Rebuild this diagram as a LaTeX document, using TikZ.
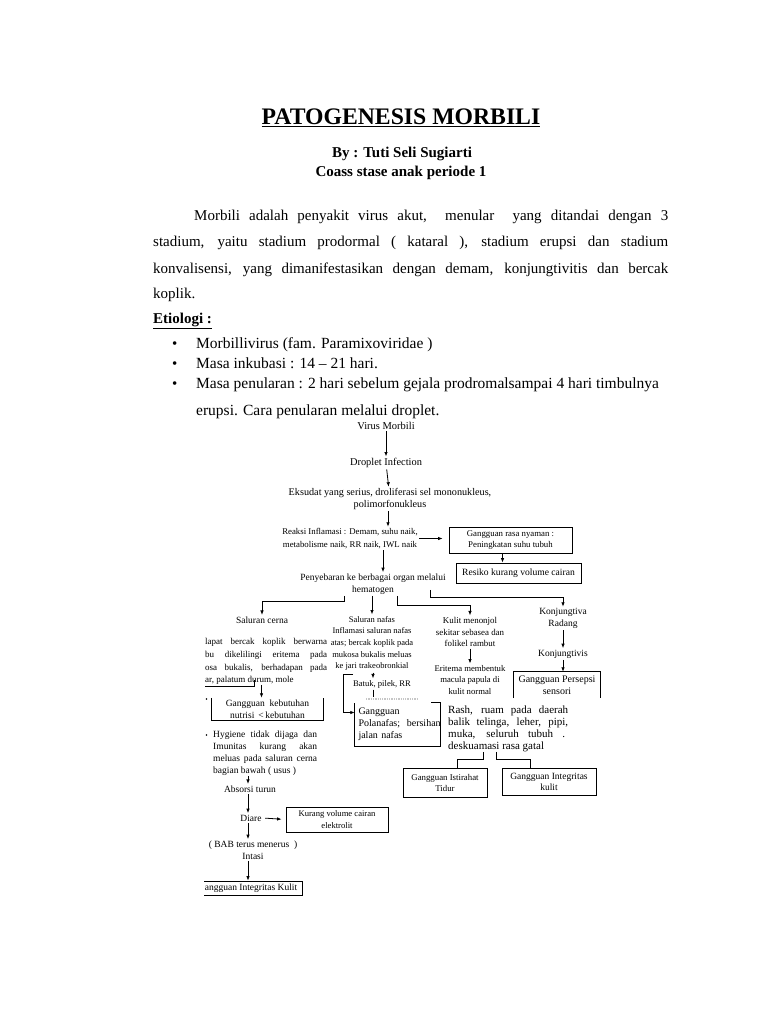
\documentclass[tikz,border=0pt]{standalone}
\usepackage{fontspec}
\setmainfont{Liberation Serif}
\usetikzlibrary{arrows.meta}
\newcommand\jl[2]{\makebox[#1][s]{#2}}
\newcommand\fs[1]{\fontsize{#1}{11.7}\selectfont}

\begin{document}
\begin{tikzpicture}[x=1pt,y=-1pt,
  body/.style={font=\fontsize{15}{18}\selectfont, inner sep=0pt, anchor=base west},
  lbl/.style={font=\fs{9.5}, align=center, inner sep=1.5pt},
  boxed/.style={lbl, draw, line width=0.8pt},
  arr/.style={-{Latex[length=4.5pt,width=3.5pt]}, line width=0.8pt},
  ln/.style={line width=0.8pt}]
\useasboundingbox (0,0) rectangle (768,1024);

\node[font=\fontsize{23.7}{24}\selectfont\bfseries, inner sep=0pt, anchor=base] (title) at (401,125) {\underline{PATOGENESIS MORBILI}};
\node[font=\fontsize{15}{18}\selectfont\bfseries, inner sep=0pt, anchor=base] (by) at (402,158) {By : Tuti Seli Sugiarti};
\node[font=\fontsize{15}{18}\selectfont\bfseries, inner sep=0pt, anchor=base] (coass) at (401,177) {Coass stase anak periode 1};

\node[body] (p1) at (194,221) {\jl{474pt}{Morbili adalah penyakit virus akut,\ \ menular\ \ yang ditandai dengan 3}};
\node[body] (p2) at (153,247) {\jl{515pt}{stadium, yaitu stadium prodormal ( kataral ), stadium erupsi dan stadium}};
\node[body] (p3) at (153,273) {\jl{515pt}{konvalisensi, yang dimanifestasikan dengan demam, konjungtivitis dan bercak}};
\node[body] (p4) at (153,298) {koplik.};
\node[body, font=\fontsize{15}{18}\selectfont\bfseries] (etio) at (153,323) {\underline{Etiologi :}};
\foreach \yy/\tt in {348/Morbillivirus (fam. Paramixoviridae ), 368/Masa inkubasi : 14 -- 21 hari., 388/Masa penularan : 2 hari sebelum gejala prodromalsampai 4 hari timbulnya}{
  \node[body] at (172,\yy) {•};
  \node[body, font=\fontsize{15.5}{18}\selectfont] at (196,\yy) {\tt};
}
\node[body, font=\fontsize{15.5}{18}\selectfont] (cont) at (196,415) {erupsi. Cara penularan melalui droplet.};

\begin{scope}
\clip (204,415) rectangle (768,1024);
\node[lbl, font=\fs{10.5}] (virus) at (386,426) {Virus Morbili};
\node[lbl, font=\fs{10.4}] (droplet) at (386,463) {Droplet Infection};
\node[lbl, font=\fs{10.2}] (eksudat) at (390,499) {Eksudat yang serius, droliferasi sel mononukleus,\\polimorfonukleus};
\node[lbl, font=\fontsize{8.8}{12.5}\selectfont] (reaksi) at (350,538.5) {Reaksi Inflamasi : Demam, suhu naik,\\metabolisme naik, RR naik, IWL naik};
\node[boxed, font=\fs{8.8}, minimum width=123pt, minimum height=26pt] (rasa) at (510.5,540) {Gangguan rasa nyaman :\\Peningkatan suhu tubuh};
\node[boxed, font=\fs{9.6}, minimum width=125pt, minimum height=20pt] (resiko) at (518.5,573) {Resiko kurang volume cairan};
\node[lbl] (sebar) at (373,584) {Penyebaran ke berbagai organ melalui\\hematogen};

\draw[arr] (virus) -- (droplet);
\draw[arr] (droplet) -- (eksudat);
\draw[arr] ([xshift=-2pt]eksudat.south) -- ([xshift=-2pt]eksudat.south |- reaksi.north);
\draw[arr, shorten >=6pt] (reaksi.east) -- (reaksi.east -| rasa.west);
\draw[arr] ([xshift=-8pt]rasa.south) -- ([xshift=-8pt]rasa.south |- resiko.north);
\draw[arr] ([xshift=33pt]reaksi.south) -- ([xshift=33pt]reaksi.south |- sebar.north);

% saluran cerna
\node[lbl] (cerna) at (262,620) {Saluran cerna};
\node[lbl, font=\fontsize{9}{12.6}\selectfont, align=left, anchor=north west, inner sep=0pt] (koplik) at (205,638.5) {\jl{122pt}{lapat bercak koplik berwarna}\\\jl{122pt}{bu dikelilingi eritema pada}\\\jl{122pt}{osa bukalis, berhadapan pada}\\ar, palatum durum, mole};
\node[lbl, minimum width=111pt, minimum height=22pt] (kebut) at (267.5,709) {Gangguan \ kebutuhan\\nutrisi \,<\,kebutuhan};
\draw[ln] (kebut.north west) -- (kebut.south west) -- (kebut.south east) -- (kebut.north east);
\draw[ln] ([yshift=-2pt]koplik.south west) -- ++(49,0) -- ++(0,-7);
\draw[arr] ([xshift=-6pt]kebut.north |- koplik.south) -- ([xshift=-6pt]kebut.north);
\fill (206.5,699) circle (0.8);
\fill (206.5,735) circle (0.8);
\node[lbl, align=left, anchor=north west, inner sep=0pt, font=\fontsize{9.5}{12}\selectfont] (hyg) at (213,731) {\jl{104pt}{Hygiene tidak dijaga dan}\\\jl{104pt}{Imunitas kurang akan}\\\jl{104pt}{meluas pada saluran cerna}\\bagian bawah ( usus )};
\node[lbl] (absorsi) at (250,789) {Absorsi turun};
\node[lbl] (diare) at (251,818) {Diare};
\node[boxed, font=\fs{8.6}, minimum width=102pt, minimum height=25pt] (kvol) at (337,819.5) {Kurang volume cairan\\elektrolit};
\node[lbl] (bab) at (253,850) {( BAB terus menerus \ )\\Intasi};
\node[boxed, minimum width=102pt, minimum height=14pt, inner sep=0pt] (gik) at (251,888) {angguan Integritas Kulit};
\draw[arr] ([xshift=-2pt]absorsi.north |- hyg.south) -- ([xshift=-2pt]absorsi.north);
\draw[arr] ([xshift=-2pt]absorsi.south) -- ([xshift=-2pt]absorsi.south |- diare.north);
\draw[arr, shorten <=2pt, shorten >=4pt] (diare.east) -- (kvol.west);
\draw[arr] ([xshift=-3pt]diare.south) -- ([xshift=-3pt]diare.south |- bab.north);
\draw[arr] ([xshift=-5pt]bab.south) -- ([xshift=-5pt]bab.south |- gik.north);

% saluran nafas
\node[lbl, font=\fs{8.5}] (nafas) at (372,643.5) {Saluran nafas\\Inflamasi saluran nafas\\atas; bercak koplik pada\\mukosa bukalis meluas\\ke jari trakeobronkial};
\node[lbl, font=\fs{8.6}] (batuk) at (382,684) {Batuk, pilek, RR};
\node[lbl, font=\fontsize{10}{11.8}\selectfont, align=left, text width=78pt, minimum height=43pt, inner sep=3.5pt] (pola) at (397.5,724.5) {Gangguan\\\jl{78pt}{Polanafas;\ \ bersihan}\\jalan nafas};
\draw[ln] ([xshift=-9pt]pola.north east) -- (pola.north east) -- (pola.south east) -- (pola.south west) -- (pola.north west);
\coordinate (nafasL) at (353,674);
\draw[arr] (nafasL) -- ++(-10,0) |- ([yshift=12pt]pola.west);
\draw[arr] ([xshift=1pt]nafas.south) -- ([xshift=1pt]nafas.south |- batuk.north);
\draw[ln] ([xshift=-9pt]batuk.south) -- ++(0,7);
\draw[gray!45, densely dotted, line width=1.3pt] (366,699) -- (418,699);

% kulit
\node[lbl, font=\fs{8.9}] (kulit) at (470,632) {Kulit menonjol\\sekitar sebasea dan\\folikel rambut};
\node[lbl, font=\fs{8.7}] (erit) at (470,680) {Eritema membentuk\\macula papula di\\kulit normal};
\node[lbl, align=left, anchor=north west, inner sep=0pt, font=\fontsize{11}{12}\selectfont] (rash) at (448,705.5) {\jl{120pt}{Rash, ruam pada daerah}\\\jl{120pt}{balik telinga, leher, pipi,}\\\jl{117pt}{muka, seluruh tubuh .}\\deskuamasi rasa gatal};
\node[boxed, font=\fs{8.8}, minimum width=84pt, minimum height=29pt] (istir) at (445,783) {Gangguan Istirahat\\Tidur};
\node[boxed, minimum width=94pt, minimum height=27pt] (integ) at (549,782) {Gangguan Integritas\\kulit};
\draw[arr] (kulit) -- (erit);
\draw[ln] ([xshift=35pt]rash.south west) -- ++(0,7) -| ([xshift=12pt]istir.north);
\draw[ln] ([xshift=48pt]rash.south west) -- ++(0,7) -| ([xshift=-19pt]integ.north);

% konjungtiva
\node[lbl] (konj) at (563,618.5) {Konjungtiva\\Radang};
\node[lbl] (konjv) at (563,654) {Konjungtivis};
\node[lbl, font=\fontsize{10}{11.8}\selectfont, minimum width=86pt, minimum height=26pt] (persep) at (557,685) {Gangguan Persepsi\\sensori};
\draw[ln] (persep.south west) -- (persep.north west) -- (persep.north east) -- (persep.south east);
\draw[arr] (konj) -- (konjv);
\draw[arr] (konjv) -- (konjv |- persep.north);

% cabang hematogen
\draw[arr] ([xshift=-29pt]sebar.south) -- ++(0,6) -| (cerna.north);
\draw[arr] (sebar.south -| nafas.north) -- (nafas.north);
\draw[arr] ([xshift=24pt]sebar.south) -- ++(0,10) -| (kulit.north);
\draw[arr] ([xshift=57pt,yshift=6pt]sebar.south) -- ++(0,8) -| (konj.north);
\end{scope}
\end{tikzpicture}
\end{document}
